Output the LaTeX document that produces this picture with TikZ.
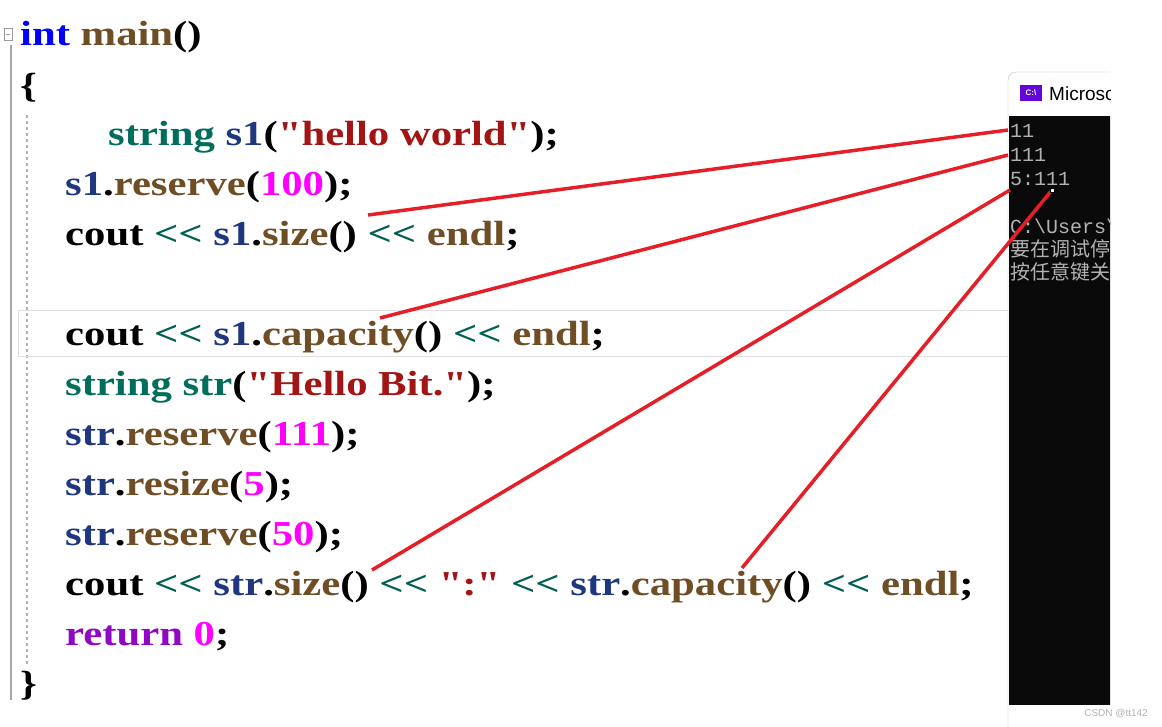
\documentclass[tikz,border=0pt]{standalone}
\usepackage{fontspec}
\setmainfont{Liberation Serif}
\newfontfamily\codef{Liberation Serif}[FakeStretch=1.22]
\newfontfamily\monof{Liberation Mono}
\newfontfamily\cjk{Noto Sans CJK SC}
\newfontfamily\uif{Liberation Sans}
\definecolor{ckw}{RGB}{0,0,255}
\definecolor{cfn}{RGB}{111,78,38}
\definecolor{cty}{RGB}{0,110,90}
\definecolor{cvar}{RGB}{31,55,127}
\definecolor{cstr}{RGB}{163,21,21}
\definecolor{cnum}{RGB}{255,0,255}
\definecolor{cret}{RGB}{143,8,196}
\definecolor{cop}{RGB}{0,96,80}
\definecolor{cred}{RGB}{230,30,40}
\newcommand{\K}[1]{{\color{ckw}#1}}
\newcommand{\F}[1]{{\color{cfn}#1}}
\newcommand{\T}[1]{{\color{cty}#1}}
\newcommand{\V}[1]{{\color{cvar}#1}}
\newcommand{\St}[1]{{\color{cstr}#1}}
\newcommand{\N}[1]{{\color{cnum}#1}}
\newcommand{\R}[1]{{\color{cret}#1}}
\newcommand{\Op}[1]{{\color{cop}#1}}
\begin{document}
\begin{tikzpicture}[x=1pt,y=-1pt,
  code/.style={anchor=base west,inner sep=0pt,font=\fontsize{35}{35}\codef\bfseries},
  cons/.style={anchor=base west,inner sep=0pt,text=gray!60,font=\fontsize{20}{20}\monof},
  redline/.style={draw=cred,line width=3.5pt}]
\useasboundingbox (0,0) rectangle (1162,726);
\fill[white] (0,0) rectangle (1162,726);
% gutter
\draw[gray!70,line width=1.5pt] (11,45) -- (11,700);
\draw[gray!80] (4,28) rectangle (12,40);
\draw[gray!80,line width=0.8pt] (6,34) -- (10,34);
\draw[gray!60,line width=1.5pt,dashed] (27,115) -- (27,665);
% current line highlight
\draw[gray!25,line width=1pt] (18,310) rectangle (1010,356);
% code
\node[code] (l1) at (20,45) {\K{int} \F{main}()};
\node[code] (l2) at (20,97) {\{};
\node[code] (l3) at (108,145) {\T{string} \V{s1}(\St{"hello world"});};
\node[code] (l4) at (65,195) {\V{s1}.\F{reserve}(\N{100});};
\node[code] (l5) at (65,245) {cout \Op{<<} \V{s1}.\F{size}() \Op{<<} \F{endl};};
\node[code] (l6) at (65,345) {cout \Op{<<} \V{s1}.\F{capacity}() \Op{<<} \F{endl};};
\node[code] (l7) at (65,395) {\T{string} \T{str}(\St{"Hello Bit."});};
\node[code] (l8) at (65,445) {\V{str}.\F{reserve}(\N{111});};
\node[code] (l9) at (65,495) {\V{str}.\F{resize}(\N{5});};
\node[code] (l10) at (65,545) {\V{str}.\F{reserve}(\N{50});};
\node[code] (l11) at (65,595) {cout \Op{<<} \V{str}.\F{size}() \Op{<<} \St{":"} \Op{<<} \V{str}.\F{capacity}() \Op{<<} \F{endl};};
\node[code] (l12) at (65,645) {\R{return} \N{0};};
\node[code] (l13) at (20,695) {\}};
% console window
\begin{scope}
\clip (1000,60) rectangle (1110,726);
\draw[gray!50,fill=white,rounded corners=8pt] (1008,72) -- (1008,760) -- (1200,760) -- (1200,72) -- cycle;
\fill[black!96] (1009,116) rectangle (1200,705);
\fill[white] (1009,705) rectangle (1200,726);
\fill[cret!70!blue] (1020,85) rectangle (1042,101);
\node[inner sep=0pt,text=white,font=\fontsize{8}{8}\uif\bfseries] (ic) at (1031,93) {C:\textbackslash};
\node[anchor=base west,inner sep=0pt,font=\fontsize{19}{19}\uif] (title) at (1049,100) {Microsoft};
\node[cons] (o1) at (1010,137) {11};
\node[cons] (o2) at (1010,161) {111};
\node[cons] (o3) at (1010,185) {5:111};
\node[cons] (o4) at (1010,233) {C:\textbackslash Users\textbackslash};
\node[cons,font=\fontsize{20}{20}\cjk] (o5) at (1010,256) {要在调试停};
\node[cons,font=\fontsize{20}{20}\cjk] (o6) at (1010,279) {按任意键关};
\end{scope}
% red lines
\coordinate (a1) at (368,215); \coordinate (b1) at (1008,130);
\coordinate (a2) at (380,318); \coordinate (b2) at (1008,155);
\coordinate (a3) at (372,570); \coordinate (b3) at (1010,190);
\coordinate (a4) at (742,568); \coordinate (b4) at (1052,190);
\draw[redline] (a1) -- (b1);
\draw[redline] (a2) -- (b2);
\draw[redline] (a3) -- (b3);
\draw[redline] (a4) -- (b4);
\draw[black,fill=white,line width=0.6pt] (1050.5,188.5) rectangle (1054,192);
\node[anchor=base east,inner sep=0pt,text=gray!60,font=\fontsize{10}{10}\uif] (wm) at (1148,716) {CSDN @tt142};
\end{tikzpicture}
\end{document}
